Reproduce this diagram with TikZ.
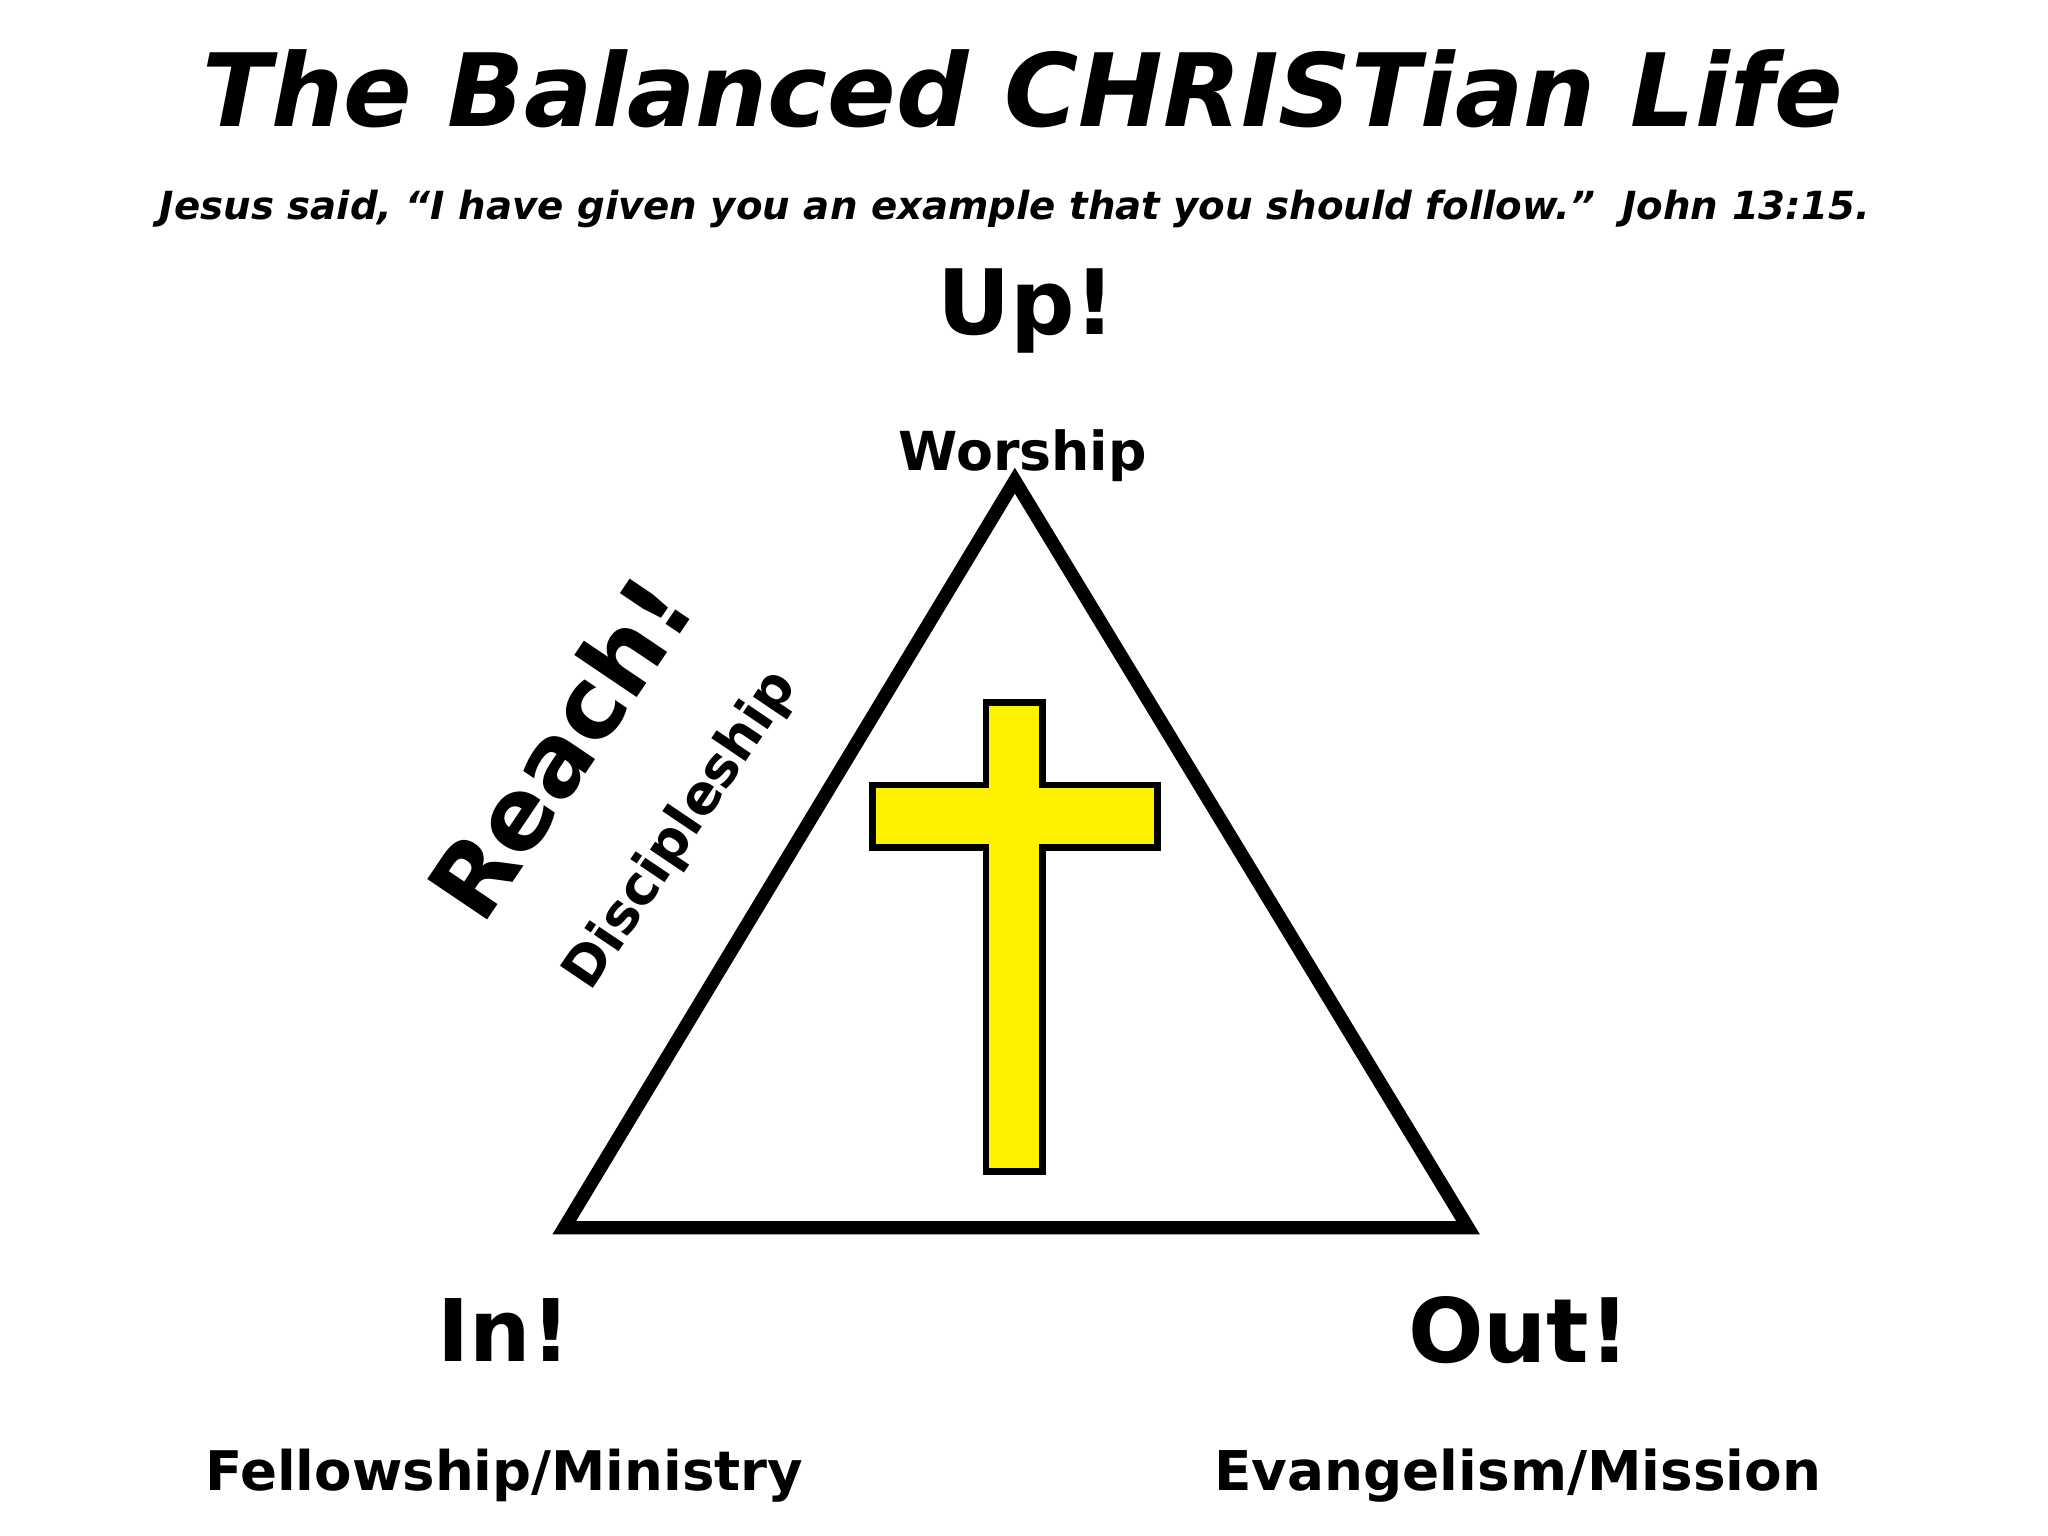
\documentclass[tikz,border=0pt]{standalone}
\usepackage{fontspec}
\usepackage{graphicx}
\setmainfont{DejaVu Sans}
\begin{document}
\begin{tikzpicture}[x=0.0130612cm,y=-0.0130612cm,
  lbl/.style={inner sep=0pt,font=\bfseries},
  tri/.style={draw=black,line width=3.8pt,line join=miter},
  crossst/.style={draw=black,fill=yellow,line width=1.9pt}]
\useasboundingbox (0,0) rectangle (1568,1176);
\node[lbl] (title) at (783,68) {\resizebox{16.4cm}{!}{\bfseries\itshape The Balanced CHRISTian Life}};
\node[lbl] (quote) at (777,160) {\resizebox{17.1cm}{!}{\bfseries\itshape Jesus said, “I have given you an example that you should follow.”\ \ John 13:15.}};
\node[lbl] (up) at (786,238) {\resizebox{1.79cm}{!}{\bfseries Up!}};
\node[lbl] (worship) at (783,349) {\resizebox{2.48cm}{!}{\bfseries Worship}};
\coordinate (A) at (777,368);
\coordinate (B) at (432,940);
\coordinate (C) at (1124,940);
\draw[tri] (A) -- (B) -- (C) -- cycle;
\draw[crossst] (755,538) -- (798,538) -- (798,601) -- (886,601) -- (886,649) -- (798,649) -- (798,897) -- (755,897) -- (755,649) -- (668,649) -- (668,601) -- (755,601) -- cycle;
\node[lbl,rotate=56] (reach) at (428,572) {\resizebox{3.85cm}{!}{\bfseries Reach!}};
\node[lbl,rotate=56] (disc) at (522,636) {\resizebox{3.7cm}{!}{\bfseries Discipleship}};
\node[lbl] (in) at (386,1018) {\resizebox{1.33cm}{!}{\bfseries In!}};
\node[lbl] (out) at (1163,1018) {\resizebox{2.22cm}{!}{\bfseries Out!}};
\node[lbl] (fell) at (386,1130) {\resizebox{5.98cm}{!}{\bfseries Fellowship/Ministry}};
\node[lbl] (evan) at (1162,1130) {\resizebox{6.07cm}{!}{\bfseries Evangelism/Mission}};
\end{tikzpicture}
\end{document}
